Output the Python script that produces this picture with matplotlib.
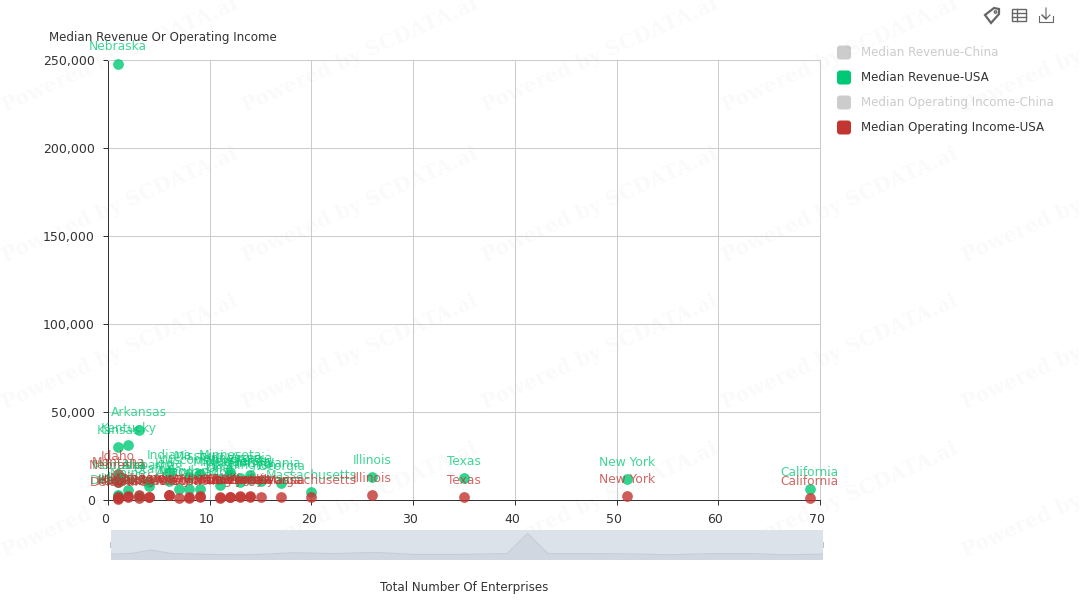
import matplotlib
matplotlib.use("Agg")
import matplotlib.pyplot as plt
from matplotlib.patches import FancyBboxPatch, Rectangle, Polygon, Circle
from matplotlib.ticker import FuncFormatter
from matplotlib.transforms import ScaledTranslation

# values
states = ["Nebraska", "Kansas", "Idaho", "Delaware", "Hawaii", "Montana", "Kentucky", "Maine",
          "Arkansas", "Oregon", "Alabama", "Utah", "Iowa", "Indiana", "Arizona", "Maryland",
          "Wisconsin", "Colorado", "Missouri", "Ohio", "Michigan", "Tennessee", "Minnesota",
          "Washington", "New Jersey", "Virginia", "Florida", "Pennsylvania", "Georgia",
          "Massachusetts", "Illinois", "Texas", "New York", "California"]
enterprises = [1, 1, 1, 1, 1, 1, 2, 2, 3, 3, 4, 4, 6, 6, 7, 8, 8, 9, 9, 11, 11, 12, 12,
               13, 13, 14, 14, 15, 17, 20, 26, 35, 51, 69]
revenue = [248000, 30000, 3000, 1500, 2000, 10000, 31000, 5500, 40000, 2500, 10000, 8000,
           11000, 16000, 6000, 6500, 13000, 6000, 15000, 8500, 12000, 14000, 16000, 10000,
           12500, 14000, 12000, 11000, 9500, 4500, 13000, 12500, 12000, 6000]
income = [10000, 1200, 15000, 600, 1800, 12000, 1500, 2500, 1300, 3000, 1900, 1500, 3000,
          2900, 1000, 1500, 1300, 1800, 2400, 1400, 1500, 1800, 1600, 2000, 1700, 2200,
          1800, 1800, 1700, 1600, 2800, 1800, 2300, 1200]

y_ticks = [0, 50000, 100000, 150000, 200000, 250000]
x_ticks = [0, 10, 20, 30, 40, 50, 60, 70]

legend_names = ["Median Revenue-China", "Median Revenue-USA",
                "Median Operating Income-China", "Median Operating Income-USA"]
legend_on = [False, True, False, True]

# shadow in the slider under the chart
shadow_x = [0, 2, 4, 6, 10, 14, 18, 22, 26, 30, 34, 39, 41, 43, 47, 51, 55, 59, 63, 66, 70]
shadow_y = [0.18, 0.2, 0.32, 0.2, 0.17, 0.16, 0.23, 0.2, 0.24, 0.17, 0.17, 0.2, 0.88, 0.2,
            0.2, 0.19, 0.16, 0.2, 0.2, 0.16, 0.18]

GREEN = "#00c875"
RED = "#c23531"
TEXT = "#333333"

fig = plt.figure(figsize=(10.8, 6), dpi=100)
W, H = 1080.0, 600.0

# overlay in pixel coordinates for legend, icons, watermark
bg = fig.add_axes([0, 0, 1, 1], zorder=0)
bg.set_xlim(0, W)
bg.set_ylim(H, 0)
bg.axis("off")

ax = fig.add_axes([108 / W, 1 - 500 / H, 712 / W, 440 / H], zorder=2)
ax.patch.set_alpha(0)
ax.set_xlim(0, 70)
ax.set_ylim(0, 250000)
ax.set_xticks(x_ticks)
ax.set_yticks(y_ticks)
ax.yaxis.set_major_formatter(FuncFormatter(lambda v, p: f"{int(v):,}"))
ax.grid(True, color="#cccccc", linewidth=0.72)
ax.set_axisbelow(True)
for s in ["top", "right"]:
    ax.spines[s].set_color("#cccccc")
    ax.spines[s].set_linewidth(0.72)
for s in ["left", "bottom"]:
    ax.spines[s].set_color(TEXT)
    ax.spines[s].set_linewidth(0.72)
ax.tick_params(axis="both", length=3.6, width=0.72, color=TEXT, labelcolor=TEXT, labelsize=9)
ax.tick_params(axis="y", pad=6)
ax.tick_params(axis="x", pad=6)
for lab in ax.get_xticklabels():
    lab.set_transform(lab.get_transform() + ScaledTranslation(-2 / 72, 0, fig.dpi_scale_trans))

ax.scatter(enterprises, revenue, s=60, color=GREEN, alpha=0.8, linewidths=0, clip_on=False, zorder=3)
ax.scatter(enterprises, income, s=60, color=RED, alpha=0.8, linewidths=0, clip_on=False, zorder=4)

for i in range(len(states)):
    ax.annotate(states[i], (enterprises[i], revenue[i]), xytext=(0, 12), textcoords="offset points",
                ha="center", va="center", fontsize=8.8, color=GREEN, alpha=0.75, zorder=5,
                annotation_clip=False)
    ax.annotate(states[i], (enterprises[i], income[i]), xytext=(0, 12), textcoords="offset points",
                ha="center", va="center", fontsize=8.8, color=RED, alpha=0.75, zorder=5,
                annotation_clip=False)

bg.text(49, 38, "Median Revenue Or Operating Income", fontsize=8.6, color=TEXT, ha="left", va="center")
bg.text(464, 588, "Total Number Of Enterprises", fontsize=8.6, color=TEXT, ha="center", va="center")

# legend
for i, name in enumerate(legend_names):
    y = 52.5 + i * 25
    col = ([GREEN, RED][i // 2]) if legend_on[i] else "#cccccc"
    bg.add_patch(FancyBboxPatch((839, y - 5), 10, 10, boxstyle="round,pad=2,rounding_size=3",
                                facecolor=col, edgecolor="none"))
    bg.text(861, y, name, fontsize=8.6, va="center", color=TEXT if legend_on[i] else "#cccccc")

# slider
slider = fig.add_axes([110.5 / W, 1 - 559.5 / H, 712 / W, 29.5 / H], zorder=2)
slider.set_xlim(0, 70)
slider.set_ylim(0, 1)
slider.set_facecolor("#dbe2ea")
for s in slider.spines.values():
    s.set_visible(False)
slider.set_xticks([])
slider.set_yticks([])
slider.fill_between(shadow_x, shadow_y, color="#ccd3dd", alpha=0.7, linewidth=0)
slider.plot(shadow_x, shadow_y, color="#c3ccd8", linewidth=0.8)
for hx in [110.5, 822.5]:
    bg.add_patch(Rectangle((hx - 1, 542), 2, 6, facecolor="#b8c4d4", edgecolor="none"))

# toolbox icons
ic = "#666666"
bg.add_patch(Polygon([(985, 15), (994, 8), (999, 9), (999, 14), (991, 23)], closed=True,
                     fill=False, edgecolor=ic, linewidth=1.6))
bg.add_patch(Circle((995.5, 12), 1.2, fill=False, edgecolor=ic, linewidth=1))
bg.add_patch(Rectangle((1012, 9), 14, 12, fill=False, edgecolor=ic, linewidth=1))
for yy in [12.5, 16.5]:
    bg.plot([1012, 1026], [yy, yy], color=ic, linewidth=1)
bg.plot([1016.5, 1016.5], [9, 21], color=ic, linewidth=1)
bg.plot([1046, 1046, 1042, 1046, 1050], [8, 19, 15, 19, 15], color=ic, linewidth=0.8)
bg.plot([1039, 1039, 1053, 1053], [16, 22, 22, 16], color=ic, linewidth=0.8)

# watermark tiles
for cy in [55, 205, 352, 500]:
    for cx in [120, 360, 600, 840, 1080]:
        bg.text(cx, cy, "Powered by SCDATA.ai", family="DejaVu Serif", weight="bold", fontsize=14.5,
                color="#000000", alpha=0.022, rotation=24, ha="center", va="center",
                rotation_mode="anchor", clip_on=True)

fig.savefig("out.png", dpi=100)
